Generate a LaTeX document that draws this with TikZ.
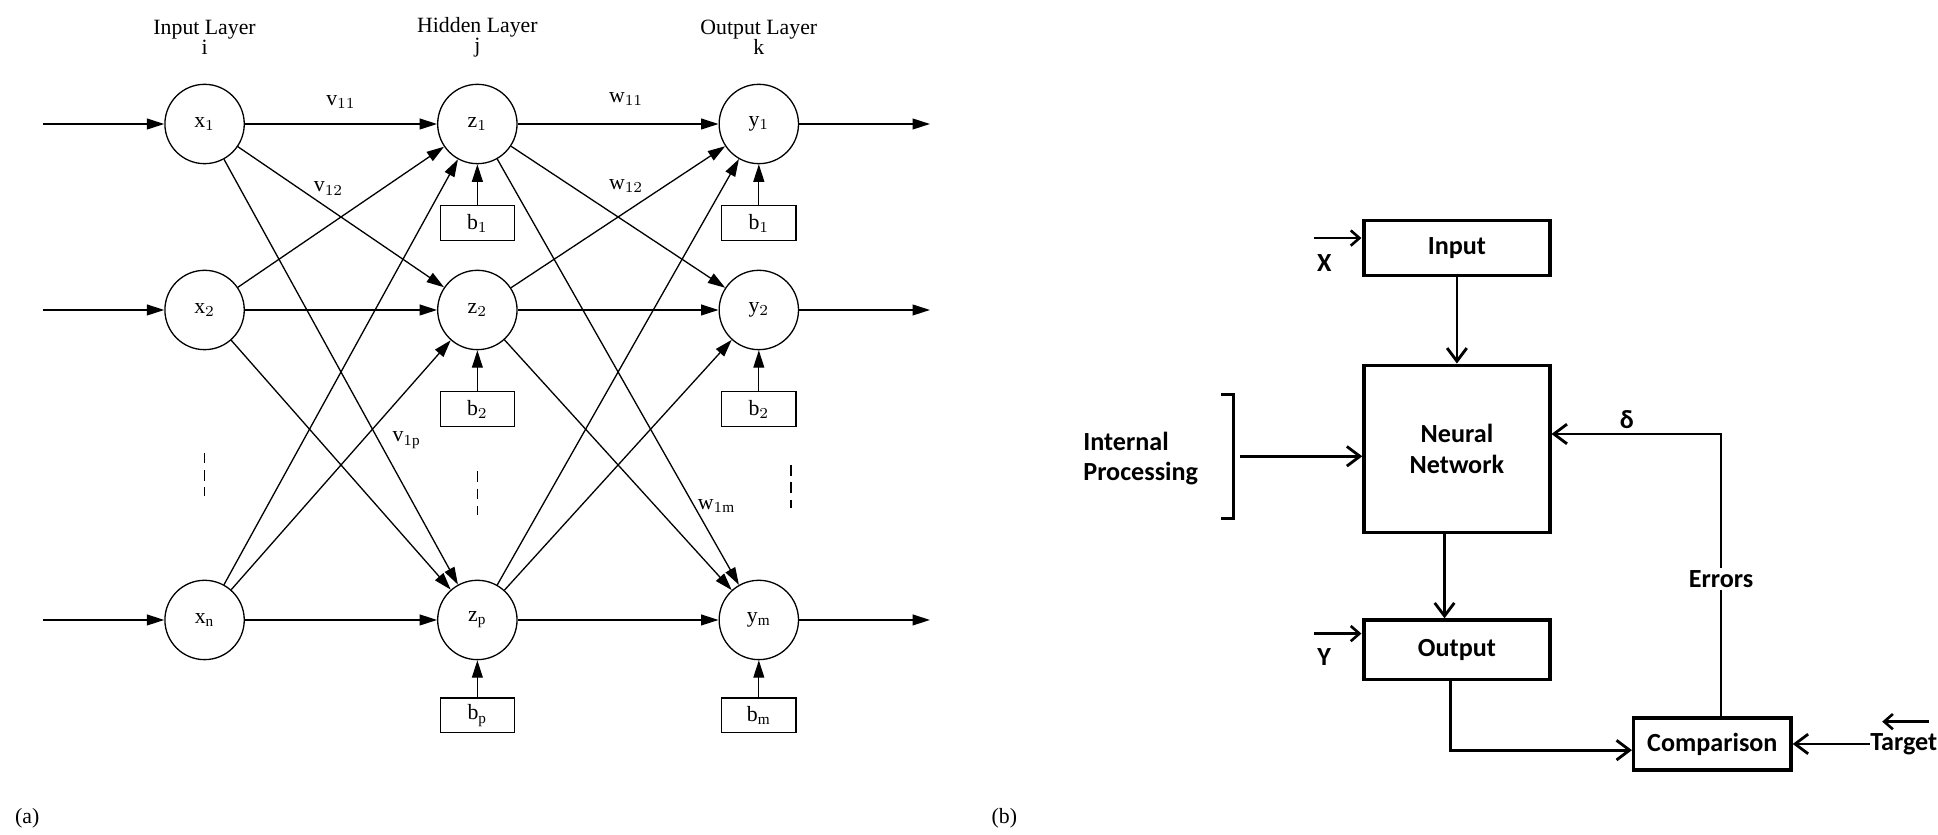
\documentclass[tikz,border=0pt]{standalone}
\usepackage{fontspec}
\setmainfont{Liberation Serif}
\newfontfamily\calfont{Carlito}
\usetikzlibrary{arrows.meta,positioning}
\begin{document}
\begin{tikzpicture}[x=0.02cm,y=-0.02cm,
  neu/.style={circle,draw,line width=0.6pt,minimum size=64*0.02cm,inner sep=0pt,font=\normalsize},
  bias/.style={draw,line width=0.6pt,minimum width=60*0.02cm,minimum height=28*0.02cm,inner sep=0pt},
  con/.style={line width=0.6pt,-{Triangle[length=8pt,width=5pt]}},
  lab/.style={font=\normalsize,align=center},
  bf/.style={font=\calfont\bfseries\large},
  box/.style={draw,line width=1.5pt,inner sep=0pt,bf},
  rar/.style={line width=1.3pt,-{Straight Barb[length=6pt,width=9pt,line width=1.3pt]}}]
\useasboundingbox (0,0) rectangle (1563,673);
% ---------- (a) ----------
\node[lab] (li) at (165,30) {Input Layer\\[-3pt]i};
\node[lab] (lj) at (385,30) {Hidden Layer\\[-3pt]j};
\node[lab] (lk) at (612,30) {Output Layer\\[-3pt]k};
\foreach \n/\y/\t in {x1/100/{x$_1$},x2/250/{x$_2$},xn/500/{x$_\mathrm{n}$}}
  \node[neu] (\n) at (165,\y) {\t};
\foreach \n/\y/\t in {z1/100/{z$_1$},z2/250/{z$_2$},zp/500/{z$_\mathrm{p}$}}
  \node[neu] (\n) at (385,\y) {\t};
\foreach \n/\y/\t in {y1/100/{y$_1$},y2/250/{y$_2$},ym/500/{y$_\mathrm{m}$}}
  \node[neu] (\n) at (612,\y) {\t};
\foreach \n/\y/\t in {hb1/180/{b$_1$},hb2/330/{b$_2$},hbp/577/{b$_\mathrm{p}$}}
  \node[bias] (\n) at (385,\y) {\t};
\foreach \n/\y/\t in {ob1/180/{b$_1$},ob2/330/{b$_2$},obm/577/{b$_\mathrm{m}$}}
  \node[bias] (\n) at (612,\y) {\t};
\foreach \a/\b in {hb1/z1,hb2/z2,hbp/zp,ob1/y1,ob2/y2,obm/ym}
  \draw[con] (\a) -- (\b);
\foreach \i/\y in {1/100,2/250,3/500}{
  \coordinate (in\i) at (35,\y);
  \coordinate (out\i) at (750,\y);}
\draw[con] (in1) -- (x1); \draw[con] (in2) -- (x2); \draw[con] (in3) -- (xn);
\draw[con] (y1) -- (out1); \draw[con] (y2) -- (out2); \draw[con] (ym) -- (out3);
\foreach \a in {x1,x2,xn}\foreach \b in {z1,z2,zp}\draw[con] (\a) -- (\b);
\foreach \a in {z1,z2,zp}\foreach \b in {y1,y2,ym}\draw[con] (\a) -- (\b);
\node[lab] (v11) at (275,82) {v$_{11}$};
\node[lab] (v12) at (265,152) {v$_{12}$};
\node[lab] (v1p) at (328,355) {v$_{1\mathrm{p}}$};
\node[lab] (w11) at (505,80) {w$_{11}$};
\node[lab] (w12) at (505,150) {w$_{12}$};
\node[lab] (w1m) at (578,408) {w$_{1\mathrm{m}}$};
\foreach \x/\y in {165/365,385/380,638/375}
  \draw[dash pattern=on 5pt off 3pt,line width=0.6pt] (\x,\y) -- (\x,\y+35);
\node[lab] (la) at (22,660) {(a)};
\node[lab] (lb) at (810,660) {(b)};
% ---------- (b) ----------
\node[box,minimum width=150*0.02cm,minimum height=44*0.02cm] (inp) at (1175,200) {Input};
\node[box,minimum width=150*0.02cm,minimum height=135*0.02cm,align=center] (nn) at (1175,362) {Neural\\Network};
\node[box,minimum width=150*0.02cm,minimum height=48*0.02cm] (outb) at (1175,524) {Output};
\node[box,minimum width=127*0.02cm,minimum height=42*0.02cm] (cmp) at (1381,600) {Comparison};
\draw[rar] (inp) -- (nn);
\draw[rar] ([xshift=-10*0.02cm]nn.south) -- ([xshift=-10*0.02cm]outb.north);
\node[bf] (X) at (1068,212) {X};
\draw[line width=1.2pt,-{Straight Barb[length=4pt,width=7pt]}] (1060,192) -- (1098,192);
\node[bf] (Y) at (1068,530) {Y};
\draw[line width=1.2pt,-{Straight Barb[length=4pt,width=7pt]}] (1060,511) -- (1098,511);
\node[bf,align=left] (ip) at (920,370) {Internal\\Processing};
\coordinate (br) at (1000,368);
\draw[line width=1.5pt] (985,318) -- (995,318) -- (995,418) -- (985,418);
\draw[rar] (br) -- (nn.west |- br);
\coordinate (c1) at (1170,605);
\draw[rar] ([xshift=-5*0.02cm]outb.south) -- (c1) -- (cmp.west |- c1);
\coordinate (e1) at (1388,350);
\draw[rar] (cmp.north -| e1) -- (e1) -- (nn.east |- e1);
\node[bf,fill=white,inner sep=1pt] (err) at (1388,467) {Errors};
\node[bf] (del) at (1312,338) {δ};
\node[bf,anchor=west,inner sep=0pt] (tg) at (1508,600) {Target};
\draw[line width=1.2pt,{Straight Barb[length=4pt,width=7pt]}-] (1518,582) -- (1556,582);
\draw[rar] (tg.west) -- (cmp.east);
\end{tikzpicture}
\end{document}
